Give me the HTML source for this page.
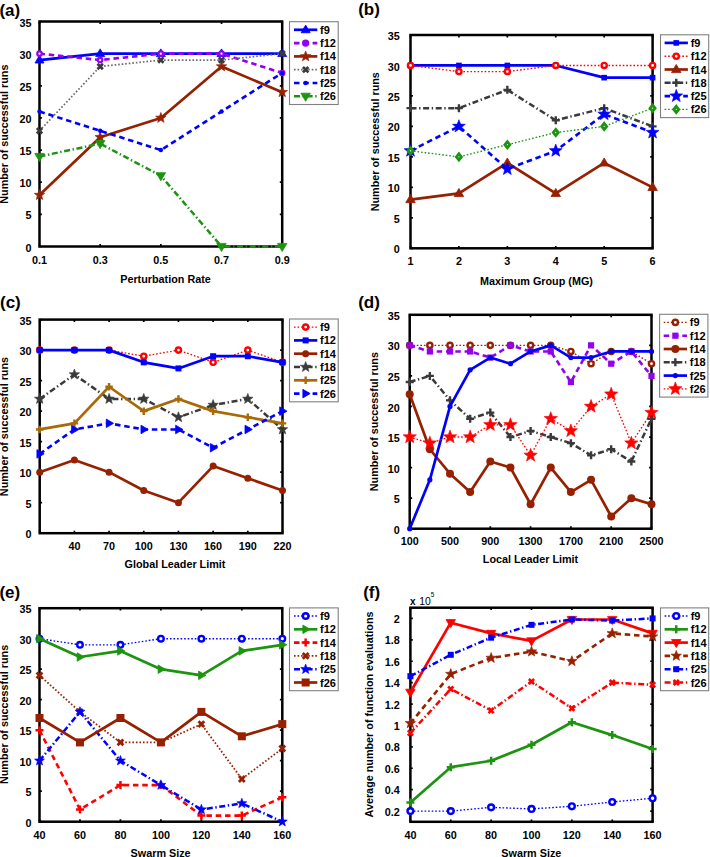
<!DOCTYPE html><html><head><meta charset="utf-8"><style>html,body{margin:0;padding:0;background:#fff;width:710px;height:857px;overflow:hidden}</style></head><body><svg width="710" height="857" viewBox="0 0 710 857" style="display:block" font-family='"Liberation Sans", sans-serif'>
<rect width="710" height="857" fill="#fff"/>
<rect x="39.5" y="21.5" width="242.7" height="225.0" fill="none" stroke="#000" stroke-width="2.5"/>
<path d="M39.50,246.5V244.1M39.50,21.5V23.9" stroke="#000" stroke-width="1.7"/>
<text x="39.50" y="263.5" text-anchor="middle" font-size="10.8" font-weight="bold">0.1</text>
<path d="M100.17,246.5V244.1M100.17,21.5V23.9" stroke="#000" stroke-width="1.7"/>
<text x="100.17" y="263.5" text-anchor="middle" font-size="10.8" font-weight="bold">0.3</text>
<path d="M160.85,246.5V244.1M160.85,21.5V23.9" stroke="#000" stroke-width="1.7"/>
<text x="160.85" y="263.5" text-anchor="middle" font-size="10.8" font-weight="bold">0.5</text>
<path d="M221.52,246.5V244.1M221.52,21.5V23.9" stroke="#000" stroke-width="1.7"/>
<text x="221.52" y="263.5" text-anchor="middle" font-size="10.8" font-weight="bold">0.7</text>
<path d="M282.20,246.5V244.1M282.20,21.5V23.9" stroke="#000" stroke-width="1.7"/>
<text x="282.20" y="263.5" text-anchor="middle" font-size="10.8" font-weight="bold">0.9</text>
<path d="M39.5,246.50H41.9M282.2,246.50H279.8" stroke="#000" stroke-width="1.7"/>
<text x="31.5" y="251.58" text-anchor="end" font-size="10.8" font-weight="bold">0</text>
<path d="M39.5,214.36H41.9M282.2,214.36H279.8" stroke="#000" stroke-width="1.7"/>
<text x="31.5" y="219.44" text-anchor="end" font-size="10.8" font-weight="bold">5</text>
<path d="M39.5,182.21H41.9M282.2,182.21H279.8" stroke="#000" stroke-width="1.7"/>
<text x="31.5" y="187.29" text-anchor="end" font-size="10.8" font-weight="bold">10</text>
<path d="M39.5,150.07H41.9M282.2,150.07H279.8" stroke="#000" stroke-width="1.7"/>
<text x="31.5" y="155.15" text-anchor="end" font-size="10.8" font-weight="bold">15</text>
<path d="M39.5,117.93H41.9M282.2,117.93H279.8" stroke="#000" stroke-width="1.7"/>
<text x="31.5" y="123.01" text-anchor="end" font-size="10.8" font-weight="bold">20</text>
<path d="M39.5,85.79H41.9M282.2,85.79H279.8" stroke="#000" stroke-width="1.7"/>
<text x="31.5" y="90.87" text-anchor="end" font-size="10.8" font-weight="bold">25</text>
<path d="M39.5,53.64H41.9M282.2,53.64H279.8" stroke="#000" stroke-width="1.7"/>
<text x="31.5" y="58.72" text-anchor="end" font-size="10.8" font-weight="bold">30</text>
<path d="M39.5,21.50H41.9M282.2,21.50H279.8" stroke="#000" stroke-width="1.7"/>
<text x="31.5" y="26.58" text-anchor="end" font-size="10.8" font-weight="bold">35</text>
<polyline points="39.50,60.07 100.17,53.64 160.85,53.64 221.52,53.64 282.20,53.64" fill="none" stroke="#0000ff" stroke-width="2.7" stroke-linejoin="round"/>
<polygon points="39.50,55.32 44.01,63.02 34.99,63.02" fill="#0000ff" stroke="#0000ff" stroke-width="0.8" stroke-linejoin="round"/>
<polygon points="100.17,48.89 104.69,56.59 95.66,56.59" fill="#0000ff" stroke="#0000ff" stroke-width="0.8" stroke-linejoin="round"/>
<polygon points="160.85,48.89 165.36,56.59 156.34,56.59" fill="#0000ff" stroke="#0000ff" stroke-width="0.8" stroke-linejoin="round"/>
<polygon points="221.52,48.89 226.04,56.59 217.01,56.59" fill="#0000ff" stroke="#0000ff" stroke-width="0.8" stroke-linejoin="round"/>
<polygon points="282.20,48.89 286.71,56.59 277.69,56.59" fill="#0000ff" stroke="#0000ff" stroke-width="0.8" stroke-linejoin="round"/>
<polyline points="39.50,53.64 100.17,60.07 160.85,53.64 221.52,53.64 282.20,72.93" fill="none" stroke="#9400f0" stroke-width="2.6" stroke-dasharray="5.5,3.8" stroke-linejoin="round"/>
<circle cx="39.50" cy="53.64" r="2.20" fill="#fff" stroke="#9400f0" stroke-width="2.2"/>
<circle cx="100.17" cy="60.07" r="2.20" fill="#fff" stroke="#9400f0" stroke-width="2.2"/>
<circle cx="160.85" cy="53.64" r="2.20" fill="#fff" stroke="#9400f0" stroke-width="2.2"/>
<circle cx="221.52" cy="53.64" r="2.20" fill="#fff" stroke="#9400f0" stroke-width="2.2"/>
<circle cx="282.20" cy="72.93" r="2.20" fill="#fff" stroke="#9400f0" stroke-width="2.2"/>
<polyline points="39.50,195.07 100.17,137.21 160.85,117.93 221.52,66.50 282.20,92.21" fill="none" stroke="#962000" stroke-width="2.7" stroke-linejoin="round"/>
<polygon points="39.50,189.57 40.86,193.20 44.73,193.37 41.70,195.79 42.73,199.52 39.50,197.38 36.27,199.52 37.30,195.79 34.27,193.37 38.14,193.20" fill="#962000" stroke="#962000" stroke-width="0.6" stroke-linejoin="miter"/>
<polygon points="100.17,131.71 101.53,135.35 105.41,135.51 102.37,137.93 103.41,141.66 100.17,139.52 96.94,141.66 97.98,137.93 94.94,135.51 98.82,135.35" fill="#962000" stroke="#962000" stroke-width="0.6" stroke-linejoin="miter"/>
<polygon points="160.85,112.43 162.21,116.06 166.08,116.23 163.05,118.64 164.08,122.38 160.85,120.24 157.62,122.38 158.65,118.64 155.62,116.23 159.49,116.06" fill="#962000" stroke="#962000" stroke-width="0.6" stroke-linejoin="miter"/>
<polygon points="221.52,61.00 222.88,64.63 226.76,64.80 223.72,67.21 224.76,70.95 221.52,68.81 218.29,70.95 219.33,67.21 216.29,64.80 220.17,64.63" fill="#962000" stroke="#962000" stroke-width="0.6" stroke-linejoin="miter"/>
<polygon points="282.20,86.71 283.56,90.35 287.43,90.51 284.40,92.93 285.43,96.66 282.20,94.52 278.97,96.66 280.00,92.93 276.97,90.51 280.84,90.35" fill="#962000" stroke="#962000" stroke-width="0.6" stroke-linejoin="miter"/>
<polyline points="39.50,130.79 100.17,66.50 160.85,60.07 221.52,60.07 282.20,53.64" fill="none" stroke="#6a6a6a" stroke-width="1.7" stroke-dasharray="1.6,1.95" stroke-linejoin="round"/>
<path d="M36.80,128.09L42.20,133.49M36.80,133.49L42.20,128.09" stroke="#3a3a3a" stroke-width="2.7"/>
<path d="M97.47,63.80L102.87,69.20M97.47,69.20L102.87,63.80" stroke="#3a3a3a" stroke-width="2.7"/>
<path d="M158.15,57.37L163.55,62.77M158.15,62.77L163.55,57.37" stroke="#3a3a3a" stroke-width="2.7"/>
<path d="M218.82,57.37L224.22,62.77M218.82,62.77L224.22,57.37" stroke="#3a3a3a" stroke-width="2.7"/>
<path d="M279.50,50.94L284.90,56.34M279.50,56.34L284.90,50.94" stroke="#3a3a3a" stroke-width="2.7"/>
<polyline points="39.50,111.50 100.17,130.79 160.85,150.07 221.52,111.50 282.20,72.93" fill="none" stroke="#0000ff" stroke-width="2.6" stroke-dasharray="5.5,3.8" stroke-linejoin="round"/>
<circle cx="39.50" cy="111.50" r="2.20" fill="#0000ff"/>
<circle cx="100.17" cy="130.79" r="2.20" fill="#0000ff"/>
<circle cx="160.85" cy="150.07" r="2.20" fill="#0000ff"/>
<circle cx="221.52" cy="111.50" r="2.20" fill="#0000ff"/>
<circle cx="282.20" cy="72.93" r="2.20" fill="#0000ff"/>
<polyline points="39.50,156.50 100.17,143.64 160.85,175.79 221.52,246.50 282.20,246.50" fill="none" stroke="#1c9410" stroke-width="2.5" stroke-dasharray="6,2.6,1.4,2.6" stroke-linejoin="round"/>
<polygon points="39.50,161.50 44.25,153.40 34.75,153.40" fill="#1c9410" stroke="#1c9410" stroke-width="0.8" stroke-linejoin="round"/>
<polygon points="100.17,148.64 104.92,140.54 95.42,140.54" fill="#1c9410" stroke="#1c9410" stroke-width="0.8" stroke-linejoin="round"/>
<polygon points="160.85,180.79 165.60,172.69 156.10,172.69" fill="#1c9410" stroke="#1c9410" stroke-width="0.8" stroke-linejoin="round"/>
<polygon points="221.52,251.50 226.27,243.40 216.77,243.40" fill="#1c9410" stroke="#1c9410" stroke-width="0.8" stroke-linejoin="round"/>
<polygon points="282.20,251.50 286.95,243.40 277.45,243.40" fill="#1c9410" stroke="#1c9410" stroke-width="0.8" stroke-linejoin="round"/>
<text x="165.5" y="282.5" text-anchor="middle" font-size="10.8" font-weight="bold">Perturbation Rate</text>
<text transform="translate(7.96,134.15) rotate(-90)" text-anchor="middle" font-size="10.8" font-weight="bold">Number of successful runs</text>
<text x="-0.6" y="15.6" font-size="17" font-weight="bold">(a)</text>
<rect x="289.5" y="21.7" width="48.7" height="82.8" fill="#fff" stroke="#808080" stroke-width="1.1"/>
<path d="M294.0,29.799999999999997H317.3" stroke="#0000ff" stroke-width="2.7"/>
<polygon points="305.65,25.05 310.16,32.74 301.14,32.74" fill="#0000ff" stroke="#0000ff" stroke-width="0.8" stroke-linejoin="round"/>
<text x="320.1" y="33.8" font-size="11" font-weight="bold">f9</text>
<path d="M294.0,43.099999999999994H317.3" stroke="#9400f0" stroke-width="2.6" stroke-dasharray="5.5,3.8"/>
<circle cx="305.65" cy="43.10" r="3.70" fill="#9400f0"/>
<text x="320.1" y="47.099999999999994" font-size="11" font-weight="bold">f12</text>
<path d="M294.0,56.4H317.3" stroke="#962000" stroke-width="2.7"/>
<polygon points="305.65,50.90 307.01,54.53 310.88,54.70 307.85,57.11 308.88,60.85 305.65,58.71 302.42,60.85 303.45,57.11 300.42,54.70 304.29,54.53" fill="#962000" stroke="#962000" stroke-width="0.6" stroke-linejoin="miter"/>
<text x="320.1" y="60.4" font-size="11" font-weight="bold">f14</text>
<path d="M294.0,69.7H317.3" stroke="#6a6a6a" stroke-width="1.7" stroke-dasharray="1.6,1.95"/>
<path d="M302.95,67.00L308.35,72.40M302.95,72.40L308.35,67.00" stroke="#3a3a3a" stroke-width="2.7"/>
<text x="320.1" y="73.7" font-size="11" font-weight="bold">f18</text>
<path d="M294.0,83.0H317.3" stroke="#0000ff" stroke-width="2.6" stroke-dasharray="5.5,3.8"/>
<circle cx="305.65" cy="83.00" r="2.20" fill="#0000ff"/>
<text x="320.1" y="87.0" font-size="11" font-weight="bold">f25</text>
<path d="M294.0,96.3H317.3" stroke="#1c9410" stroke-width="2.5" stroke-dasharray="6,2.6,1.4,2.6"/>
<polygon points="305.65,101.30 310.40,93.20 300.90,93.20" fill="#1c9410" stroke="#1c9410" stroke-width="0.8" stroke-linejoin="round"/>
<text x="320.1" y="100.3" font-size="11" font-weight="bold">f26</text>
<rect x="410.5" y="35" width="242.10000000000002" height="213.3" fill="none" stroke="#000" stroke-width="2.5"/>
<path d="M410.50,248.3V245.9M410.50,35V37.4" stroke="#000" stroke-width="1.7"/>
<text x="410.50" y="265.3" text-anchor="middle" font-size="10.8" font-weight="bold">1</text>
<path d="M458.92,248.3V245.9M458.92,35V37.4" stroke="#000" stroke-width="1.7"/>
<text x="458.92" y="265.3" text-anchor="middle" font-size="10.8" font-weight="bold">2</text>
<path d="M507.34,248.3V245.9M507.34,35V37.4" stroke="#000" stroke-width="1.7"/>
<text x="507.34" y="265.3" text-anchor="middle" font-size="10.8" font-weight="bold">3</text>
<path d="M555.76,248.3V245.9M555.76,35V37.4" stroke="#000" stroke-width="1.7"/>
<text x="555.76" y="265.3" text-anchor="middle" font-size="10.8" font-weight="bold">4</text>
<path d="M604.18,248.3V245.9M604.18,35V37.4" stroke="#000" stroke-width="1.7"/>
<text x="604.18" y="265.3" text-anchor="middle" font-size="10.8" font-weight="bold">5</text>
<path d="M652.60,248.3V245.9M652.60,35V37.4" stroke="#000" stroke-width="1.7"/>
<text x="652.60" y="265.3" text-anchor="middle" font-size="10.8" font-weight="bold">6</text>
<path d="M410.5,248.30H412.9M652.6,248.30H650.2" stroke="#000" stroke-width="1.7"/>
<text x="399.8" y="253.38" text-anchor="end" font-size="10.8" font-weight="bold">0</text>
<path d="M410.5,217.83H412.9M652.6,217.83H650.2" stroke="#000" stroke-width="1.7"/>
<text x="399.8" y="222.91" text-anchor="end" font-size="10.8" font-weight="bold">5</text>
<path d="M410.5,187.36H412.9M652.6,187.36H650.2" stroke="#000" stroke-width="1.7"/>
<text x="399.8" y="192.44" text-anchor="end" font-size="10.8" font-weight="bold">10</text>
<path d="M410.5,156.89H412.9M652.6,156.89H650.2" stroke="#000" stroke-width="1.7"/>
<text x="399.8" y="161.97" text-anchor="end" font-size="10.8" font-weight="bold">15</text>
<path d="M410.5,126.41H412.9M652.6,126.41H650.2" stroke="#000" stroke-width="1.7"/>
<text x="399.8" y="131.49" text-anchor="end" font-size="10.8" font-weight="bold">20</text>
<path d="M410.5,95.94H412.9M652.6,95.94H650.2" stroke="#000" stroke-width="1.7"/>
<text x="399.8" y="101.02" text-anchor="end" font-size="10.8" font-weight="bold">25</text>
<path d="M410.5,65.47H412.9M652.6,65.47H650.2" stroke="#000" stroke-width="1.7"/>
<text x="399.8" y="70.55" text-anchor="end" font-size="10.8" font-weight="bold">30</text>
<path d="M410.5,35.00H412.9M652.6,35.00H650.2" stroke="#000" stroke-width="1.7"/>
<text x="399.8" y="40.08" text-anchor="end" font-size="10.8" font-weight="bold">35</text>
<polyline points="410.50,65.47 458.92,65.47 507.34,65.47 555.76,65.47 604.18,77.66 652.60,77.66" fill="none" stroke="#0000ff" stroke-width="2.7" stroke-linejoin="round"/>
<rect x="407.70" y="62.67" width="5.6" height="5.6" fill="#0000ff"/>
<rect x="456.12" y="62.67" width="5.6" height="5.6" fill="#0000ff"/>
<rect x="504.54" y="62.67" width="5.6" height="5.6" fill="#0000ff"/>
<rect x="552.96" y="62.67" width="5.6" height="5.6" fill="#0000ff"/>
<rect x="601.38" y="74.86" width="5.6" height="5.6" fill="#0000ff"/>
<rect x="649.80" y="74.86" width="5.6" height="5.6" fill="#0000ff"/>
<polyline points="410.50,65.47 458.92,71.57 507.34,71.57 555.76,65.47 604.18,65.47 652.60,65.47" fill="none" stroke="#ff0000" stroke-width="1.35" stroke-dasharray="1.6,1.95" stroke-linejoin="round"/>
<circle cx="410.50" cy="65.47" r="2.60" fill="#fff" stroke="#ff0000" stroke-width="2.4"/>
<circle cx="458.92" cy="71.57" r="2.60" fill="#fff" stroke="#ff0000" stroke-width="2.4"/>
<circle cx="507.34" cy="71.57" r="2.60" fill="#fff" stroke="#ff0000" stroke-width="2.4"/>
<circle cx="555.76" cy="65.47" r="2.60" fill="#fff" stroke="#ff0000" stroke-width="2.4"/>
<circle cx="604.18" cy="65.47" r="2.60" fill="#fff" stroke="#ff0000" stroke-width="2.4"/>
<circle cx="652.60" cy="65.47" r="2.60" fill="#fff" stroke="#ff0000" stroke-width="2.4"/>
<polyline points="410.50,199.55 458.92,193.45 507.34,162.98 555.76,193.45 604.18,162.98 652.60,187.36" fill="none" stroke="#962000" stroke-width="2.7" stroke-linejoin="round"/>
<polygon points="410.50,194.55 415.25,202.65 405.75,202.65" fill="#962000" stroke="#962000" stroke-width="0.8" stroke-linejoin="round"/>
<polygon points="458.92,188.45 463.67,196.55 454.17,196.55" fill="#962000" stroke="#962000" stroke-width="0.8" stroke-linejoin="round"/>
<polygon points="507.34,157.98 512.09,166.08 502.59,166.08" fill="#962000" stroke="#962000" stroke-width="0.8" stroke-linejoin="round"/>
<polygon points="555.76,188.45 560.51,196.55 551.01,196.55" fill="#962000" stroke="#962000" stroke-width="0.8" stroke-linejoin="round"/>
<polygon points="604.18,157.98 608.93,166.08 599.43,166.08" fill="#962000" stroke="#962000" stroke-width="0.8" stroke-linejoin="round"/>
<polygon points="652.60,182.36 657.35,190.46 647.85,190.46" fill="#962000" stroke="#962000" stroke-width="0.8" stroke-linejoin="round"/>
<polyline points="410.50,108.13 458.92,108.13 507.34,89.85 555.76,120.32 604.18,108.13 652.60,126.41" fill="none" stroke="#3a3a3a" stroke-width="2.5" stroke-dasharray="6,2.6,1.4,2.6" stroke-linejoin="round"/>
<path d="M406.50,108.13H414.50M410.50,104.13V112.13" stroke="#3a3a3a" stroke-width="2.4"/>
<path d="M454.92,108.13H462.92M458.92,104.13V112.13" stroke="#3a3a3a" stroke-width="2.4"/>
<path d="M503.34,89.85H511.34M507.34,85.85V93.85" stroke="#3a3a3a" stroke-width="2.4"/>
<path d="M551.76,120.32H559.76M555.76,116.32V124.32" stroke="#3a3a3a" stroke-width="2.4"/>
<path d="M600.18,108.13H608.18M604.18,104.13V112.13" stroke="#3a3a3a" stroke-width="2.4"/>
<path d="M648.60,126.41H656.60M652.60,122.41V130.41" stroke="#3a3a3a" stroke-width="2.4"/>
<polyline points="410.50,150.79 458.92,126.41 507.34,169.07 555.76,150.79 604.18,114.23 652.60,132.51" fill="none" stroke="#0000ff" stroke-width="2.6" stroke-dasharray="5.5,3.8" stroke-linejoin="round"/>
<polygon points="410.50,144.04 412.17,148.50 416.92,148.71 413.20,151.67 414.47,156.25 410.50,153.63 406.53,156.25 407.80,151.67 404.08,148.71 408.83,148.50" fill="#0000ff" stroke="#0000ff" stroke-width="0.6" stroke-linejoin="miter"/>
<polygon points="458.92,119.66 460.59,124.12 465.34,124.33 461.62,127.29 462.89,131.88 458.92,129.25 454.95,131.88 456.22,127.29 452.50,124.33 457.25,124.12" fill="#0000ff" stroke="#0000ff" stroke-width="0.6" stroke-linejoin="miter"/>
<polygon points="507.34,162.32 509.01,166.78 513.76,166.99 510.04,169.95 511.31,174.54 507.34,171.91 503.37,174.54 504.64,169.95 500.92,166.99 505.67,166.78" fill="#0000ff" stroke="#0000ff" stroke-width="0.6" stroke-linejoin="miter"/>
<polygon points="555.76,144.04 557.43,148.50 562.18,148.71 558.46,151.67 559.73,156.25 555.76,153.63 551.79,156.25 553.06,151.67 549.34,148.71 554.09,148.50" fill="#0000ff" stroke="#0000ff" stroke-width="0.6" stroke-linejoin="miter"/>
<polygon points="604.18,107.48 605.85,111.93 610.60,112.14 606.88,115.10 608.15,119.69 604.18,117.06 600.21,119.69 601.48,115.10 597.76,112.14 602.51,111.93" fill="#0000ff" stroke="#0000ff" stroke-width="0.6" stroke-linejoin="miter"/>
<polygon points="652.60,125.76 654.27,130.22 659.02,130.42 655.30,133.38 656.57,137.97 652.60,135.34 648.63,137.97 649.90,133.38 646.18,130.42 650.93,130.22" fill="#0000ff" stroke="#0000ff" stroke-width="0.6" stroke-linejoin="miter"/>
<polyline points="410.50,150.79 458.92,156.89 507.34,144.70 555.76,132.51 604.18,126.41 652.60,108.13" fill="none" stroke="#1c9410" stroke-width="1.35" stroke-dasharray="1.6,1.95" stroke-linejoin="round"/>
<polygon points="410.50,147.72 412.96,150.79 410.50,153.86 408.04,150.79" fill="#fff" stroke="#1c9410" stroke-width="2.8"/>
<polygon points="458.92,153.82 461.38,156.89 458.92,159.96 456.46,156.89" fill="#fff" stroke="#1c9410" stroke-width="2.8"/>
<polygon points="507.34,141.63 509.80,144.70 507.34,147.77 504.88,144.70" fill="#fff" stroke="#1c9410" stroke-width="2.8"/>
<polygon points="555.76,129.44 558.22,132.51 555.76,135.58 553.30,132.51" fill="#fff" stroke="#1c9410" stroke-width="2.8"/>
<polygon points="604.18,123.34 606.64,126.41 604.18,129.48 601.72,126.41" fill="#fff" stroke="#1c9410" stroke-width="2.8"/>
<polygon points="652.60,105.06 655.06,108.13 652.60,111.20 650.14,108.13" fill="#fff" stroke="#1c9410" stroke-width="2.8"/>
<text x="536.5" y="284.7" text-anchor="middle" font-size="10.8" font-weight="bold">Maximum Group (MG)</text>
<text transform="translate(378.8,141.75) rotate(-90)" text-anchor="middle" font-size="10.8" font-weight="bold">Number of successful runs</text>
<text x="358.2" y="15.2" font-size="17" font-weight="bold">(b)</text>
<rect x="660.5" y="34.8" width="48.2" height="82.8" fill="#fff" stroke="#808080" stroke-width="1.1"/>
<path d="M664.6,42.9H687.9" stroke="#0000ff" stroke-width="2.7"/>
<rect x="673.45" y="40.10" width="5.6" height="5.6" fill="#0000ff"/>
<text x="690.7" y="46.9" font-size="11" font-weight="bold">f9</text>
<path d="M664.6,56.2H687.9" stroke="#ff0000" stroke-width="1.35" stroke-dasharray="1.6,1.95"/>
<circle cx="676.25" cy="56.20" r="2.60" fill="#fff" stroke="#ff0000" stroke-width="2.4"/>
<text x="690.7" y="60.2" font-size="11" font-weight="bold">f12</text>
<path d="M664.6,69.5H687.9" stroke="#962000" stroke-width="2.7"/>
<polygon points="676.25,64.50 681.00,72.60 671.50,72.60" fill="#962000" stroke="#962000" stroke-width="0.8" stroke-linejoin="round"/>
<text x="690.7" y="73.5" font-size="11" font-weight="bold">f14</text>
<path d="M664.6,82.80000000000001H687.9" stroke="#3a3a3a" stroke-width="2.5" stroke-dasharray="6,2.6,1.4,2.6"/>
<path d="M672.25,82.80H680.25M676.25,78.80V86.80" stroke="#3a3a3a" stroke-width="2.4"/>
<text x="690.7" y="86.80000000000001" font-size="11" font-weight="bold">f18</text>
<path d="M664.6,96.1H687.9" stroke="#0000ff" stroke-width="2.6" stroke-dasharray="5.5,3.8"/>
<polygon points="676.25,89.35 677.92,93.81 682.67,94.01 678.95,96.98 680.22,101.56 676.25,98.93 672.28,101.56 673.55,96.98 669.83,94.01 674.58,93.81" fill="#0000ff" stroke="#0000ff" stroke-width="0.6" stroke-linejoin="miter"/>
<text x="690.7" y="100.1" font-size="11" font-weight="bold">f25</text>
<path d="M664.6,109.4H687.9" stroke="#1c9410" stroke-width="1.35" stroke-dasharray="1.6,1.95"/>
<polygon points="676.25,106.33 678.71,109.40 676.25,112.47 673.79,109.40" fill="#fff" stroke="#1c9410" stroke-width="2.8"/>
<text x="690.7" y="113.4" font-size="11" font-weight="bold">f26</text>
<rect x="39.7" y="319.6" width="242.8" height="213.60000000000002" fill="none" stroke="#000" stroke-width="2.5"/>
<path d="M39.70,533.2V530.8000000000001M39.70,319.6V322.0" stroke="#000" stroke-width="1.7"/>
<path d="M74.39,533.2V530.8000000000001M74.39,319.6V322.0" stroke="#000" stroke-width="1.7"/>
<text x="74.39" y="549.6" text-anchor="middle" font-size="10.8" font-weight="bold">40</text>
<path d="M109.07,533.2V530.8000000000001M109.07,319.6V322.0" stroke="#000" stroke-width="1.7"/>
<text x="109.07" y="549.6" text-anchor="middle" font-size="10.8" font-weight="bold">70</text>
<path d="M143.76,533.2V530.8000000000001M143.76,319.6V322.0" stroke="#000" stroke-width="1.7"/>
<text x="143.76" y="549.6" text-anchor="middle" font-size="10.8" font-weight="bold">100</text>
<path d="M178.44,533.2V530.8000000000001M178.44,319.6V322.0" stroke="#000" stroke-width="1.7"/>
<text x="178.44" y="549.6" text-anchor="middle" font-size="10.8" font-weight="bold">130</text>
<path d="M213.13,533.2V530.8000000000001M213.13,319.6V322.0" stroke="#000" stroke-width="1.7"/>
<text x="213.13" y="549.6" text-anchor="middle" font-size="10.8" font-weight="bold">160</text>
<path d="M247.81,533.2V530.8000000000001M247.81,319.6V322.0" stroke="#000" stroke-width="1.7"/>
<text x="247.81" y="549.6" text-anchor="middle" font-size="10.8" font-weight="bold">190</text>
<path d="M282.50,533.2V530.8000000000001M282.50,319.6V322.0" stroke="#000" stroke-width="1.7"/>
<text x="282.50" y="549.6" text-anchor="middle" font-size="10.8" font-weight="bold">220</text>
<path d="M39.7,533.20H42.1M282.5,533.20H280.1" stroke="#000" stroke-width="1.7"/>
<text x="31.5" y="538.28" text-anchor="end" font-size="10.8" font-weight="bold">0</text>
<path d="M39.7,502.69H42.1M282.5,502.69H280.1" stroke="#000" stroke-width="1.7"/>
<text x="31.5" y="507.77" text-anchor="end" font-size="10.8" font-weight="bold">5</text>
<path d="M39.7,472.17H42.1M282.5,472.17H280.1" stroke="#000" stroke-width="1.7"/>
<text x="31.5" y="477.25" text-anchor="end" font-size="10.8" font-weight="bold">10</text>
<path d="M39.7,441.66H42.1M282.5,441.66H280.1" stroke="#000" stroke-width="1.7"/>
<text x="31.5" y="446.74" text-anchor="end" font-size="10.8" font-weight="bold">15</text>
<path d="M39.7,411.14H42.1M282.5,411.14H280.1" stroke="#000" stroke-width="1.7"/>
<text x="31.5" y="416.22" text-anchor="end" font-size="10.8" font-weight="bold">20</text>
<path d="M39.7,380.63H42.1M282.5,380.63H280.1" stroke="#000" stroke-width="1.7"/>
<text x="31.5" y="385.71" text-anchor="end" font-size="10.8" font-weight="bold">25</text>
<path d="M39.7,350.11H42.1M282.5,350.11H280.1" stroke="#000" stroke-width="1.7"/>
<text x="31.5" y="355.19" text-anchor="end" font-size="10.8" font-weight="bold">30</text>
<path d="M39.7,319.60H42.1M282.5,319.60H280.1" stroke="#000" stroke-width="1.7"/>
<text x="31.5" y="324.68" text-anchor="end" font-size="10.8" font-weight="bold">35</text>
<polyline points="39.70,350.11 74.39,350.11 109.07,350.11 143.76,356.22 178.44,350.11 213.13,362.32 247.81,350.11 282.50,362.32" fill="none" stroke="#ff0000" stroke-width="1.35" stroke-dasharray="1.6,1.95" stroke-linejoin="round"/>
<circle cx="39.70" cy="350.11" r="2.60" fill="#fff" stroke="#ff0000" stroke-width="2.4"/>
<circle cx="74.39" cy="350.11" r="2.60" fill="#fff" stroke="#ff0000" stroke-width="2.4"/>
<circle cx="109.07" cy="350.11" r="2.60" fill="#fff" stroke="#ff0000" stroke-width="2.4"/>
<circle cx="143.76" cy="356.22" r="2.60" fill="#fff" stroke="#ff0000" stroke-width="2.4"/>
<circle cx="178.44" cy="350.11" r="2.60" fill="#fff" stroke="#ff0000" stroke-width="2.4"/>
<circle cx="213.13" cy="362.32" r="2.60" fill="#fff" stroke="#ff0000" stroke-width="2.4"/>
<circle cx="247.81" cy="350.11" r="2.60" fill="#fff" stroke="#ff0000" stroke-width="2.4"/>
<circle cx="282.50" cy="362.32" r="2.60" fill="#fff" stroke="#ff0000" stroke-width="2.4"/>
<polyline points="39.70,350.11 74.39,350.11 109.07,350.11 143.76,362.32 178.44,368.42 213.13,356.22 247.81,356.22 282.50,362.32" fill="none" stroke="#0000ff" stroke-width="2.7" stroke-linejoin="round"/>
<rect x="36.70" y="347.11" width="6" height="6" fill="#0000ff"/>
<rect x="71.39" y="347.11" width="6" height="6" fill="#0000ff"/>
<rect x="106.07" y="347.11" width="6" height="6" fill="#0000ff"/>
<rect x="140.76" y="359.32" width="6" height="6" fill="#0000ff"/>
<rect x="175.44" y="365.42" width="6" height="6" fill="#0000ff"/>
<rect x="210.13" y="353.22" width="6" height="6" fill="#0000ff"/>
<rect x="244.81" y="353.22" width="6" height="6" fill="#0000ff"/>
<rect x="279.50" y="359.32" width="6" height="6" fill="#0000ff"/>
<polyline points="39.70,472.17 74.39,459.97 109.07,472.17 143.76,490.48 178.44,502.69 213.13,466.07 247.81,478.27 282.50,490.48" fill="none" stroke="#962000" stroke-width="2.7" stroke-linejoin="round"/>
<circle cx="39.70" cy="472.17" r="3.50" fill="#962000"/>
<circle cx="74.39" cy="459.97" r="3.50" fill="#962000"/>
<circle cx="109.07" cy="472.17" r="3.50" fill="#962000"/>
<circle cx="143.76" cy="490.48" r="3.50" fill="#962000"/>
<circle cx="178.44" cy="502.69" r="3.50" fill="#962000"/>
<circle cx="213.13" cy="466.07" r="3.50" fill="#962000"/>
<circle cx="247.81" cy="478.27" r="3.50" fill="#962000"/>
<circle cx="282.50" cy="490.48" r="3.50" fill="#962000"/>
<polyline points="39.70,398.94 74.39,374.53 109.07,398.94 143.76,398.94 178.44,417.25 213.13,405.04 247.81,398.94 282.50,429.45" fill="none" stroke="#3a3a3a" stroke-width="2.5" stroke-dasharray="6,2.6,1.4,2.6" stroke-linejoin="round"/>
<polygon points="39.70,393.44 41.06,397.07 44.93,397.24 41.90,399.65 42.93,403.39 39.70,401.25 36.47,403.39 37.50,399.65 34.47,397.24 38.34,397.07" fill="#3a3a3a" stroke="#3a3a3a" stroke-width="0.6" stroke-linejoin="miter"/>
<polygon points="74.39,369.03 75.74,372.66 79.62,372.83 76.58,375.24 77.62,378.98 74.39,376.84 71.15,378.98 72.19,375.24 69.15,372.83 73.03,372.66" fill="#3a3a3a" stroke="#3a3a3a" stroke-width="0.6" stroke-linejoin="miter"/>
<polygon points="109.07,393.44 110.43,397.07 114.30,397.24 111.27,399.65 112.30,403.39 109.07,401.25 105.84,403.39 106.87,399.65 103.84,397.24 107.71,397.07" fill="#3a3a3a" stroke="#3a3a3a" stroke-width="0.6" stroke-linejoin="miter"/>
<polygon points="143.76,393.44 145.11,397.07 148.99,397.24 145.95,399.65 146.99,403.39 143.76,401.25 140.52,403.39 141.56,399.65 138.53,397.24 142.40,397.07" fill="#3a3a3a" stroke="#3a3a3a" stroke-width="0.6" stroke-linejoin="miter"/>
<polygon points="178.44,411.75 179.80,415.38 183.67,415.55 180.64,417.96 181.68,421.70 178.44,419.56 175.21,421.70 176.25,417.96 173.21,415.55 177.09,415.38" fill="#3a3a3a" stroke="#3a3a3a" stroke-width="0.6" stroke-linejoin="miter"/>
<polygon points="213.13,399.54 214.49,403.17 218.36,403.34 215.33,405.75 216.36,409.49 213.13,407.35 209.90,409.49 210.93,405.75 207.90,403.34 211.77,403.17" fill="#3a3a3a" stroke="#3a3a3a" stroke-width="0.6" stroke-linejoin="miter"/>
<polygon points="247.81,393.44 249.17,397.07 253.05,397.24 250.01,399.65 251.05,403.39 247.81,401.25 244.58,403.39 245.62,399.65 242.58,397.24 246.46,397.07" fill="#3a3a3a" stroke="#3a3a3a" stroke-width="0.6" stroke-linejoin="miter"/>
<polygon points="282.50,423.95 283.86,427.58 287.73,427.75 284.70,430.17 285.73,433.90 282.50,431.76 279.27,433.90 280.30,430.17 277.27,427.75 281.14,427.58" fill="#3a3a3a" stroke="#3a3a3a" stroke-width="0.6" stroke-linejoin="miter"/>
<polyline points="39.70,429.45 74.39,423.35 109.07,386.73 143.76,411.14 178.44,398.94 213.13,411.14 247.81,417.25 282.50,423.35" fill="none" stroke="#a86a08" stroke-width="2.7" stroke-linejoin="round"/>
<path d="M35.95,429.45H43.45M39.70,425.70V433.20" stroke="#a86a08" stroke-width="2.4"/>
<path d="M70.64,423.35H78.14M74.39,419.60V427.10" stroke="#a86a08" stroke-width="2.4"/>
<path d="M105.32,386.73H112.82M109.07,382.98V390.48" stroke="#a86a08" stroke-width="2.4"/>
<path d="M140.01,411.14H147.51M143.76,407.39V414.89" stroke="#a86a08" stroke-width="2.4"/>
<path d="M174.69,398.94H182.19M178.44,395.19V402.69" stroke="#a86a08" stroke-width="2.4"/>
<path d="M209.38,411.14H216.88M213.13,407.39V414.89" stroke="#a86a08" stroke-width="2.4"/>
<path d="M244.06,417.25H251.56M247.81,413.50V421.00" stroke="#a86a08" stroke-width="2.4"/>
<path d="M278.75,423.35H286.25M282.50,419.60V427.10" stroke="#a86a08" stroke-width="2.4"/>
<polyline points="39.70,453.86 74.39,429.45 109.07,423.35 143.76,429.45 178.44,429.45 213.13,447.76 247.81,429.45 282.50,411.14" fill="none" stroke="#0000ff" stroke-width="2.6" stroke-dasharray="5.5,3.8" stroke-linejoin="round"/>
<polygon points="44.20,453.86 36.91,449.59 36.91,458.14" fill="#0000ff" stroke="#0000ff" stroke-width="0.8" stroke-linejoin="round"/>
<polygon points="78.89,429.45 71.60,425.18 71.60,433.73" fill="#0000ff" stroke="#0000ff" stroke-width="0.8" stroke-linejoin="round"/>
<polygon points="113.57,423.35 106.28,419.07 106.28,427.62" fill="#0000ff" stroke="#0000ff" stroke-width="0.8" stroke-linejoin="round"/>
<polygon points="148.26,429.45 140.97,425.18 140.97,433.73" fill="#0000ff" stroke="#0000ff" stroke-width="0.8" stroke-linejoin="round"/>
<polygon points="182.94,429.45 175.65,425.18 175.65,433.73" fill="#0000ff" stroke="#0000ff" stroke-width="0.8" stroke-linejoin="round"/>
<polygon points="217.63,447.76 210.34,443.49 210.34,452.04" fill="#0000ff" stroke="#0000ff" stroke-width="0.8" stroke-linejoin="round"/>
<polygon points="252.31,429.45 245.02,425.18 245.02,433.73" fill="#0000ff" stroke="#0000ff" stroke-width="0.8" stroke-linejoin="round"/>
<polygon points="287.00,411.14 279.71,406.87 279.71,415.42" fill="#0000ff" stroke="#0000ff" stroke-width="0.8" stroke-linejoin="round"/>
<text x="175" y="567.7" text-anchor="middle" font-size="10.8" font-weight="bold">Global Leader Limit</text>
<text transform="translate(8.0,426.55) rotate(-90)" text-anchor="middle" font-size="10.8" font-weight="bold">Number of successful runs</text>
<text x="0" y="308.3" font-size="17" font-weight="bold">(c)</text>
<rect x="289.5" y="319" width="48.7" height="82.8" fill="#fff" stroke="#808080" stroke-width="1.1"/>
<path d="M294.0,327.1H317.3" stroke="#ff0000" stroke-width="1.35" stroke-dasharray="1.6,1.95"/>
<circle cx="305.65" cy="327.10" r="2.60" fill="#fff" stroke="#ff0000" stroke-width="2.4"/>
<text x="320.1" y="331.1" font-size="11" font-weight="bold">f9</text>
<path d="M294.0,340.40000000000003H317.3" stroke="#0000ff" stroke-width="2.7"/>
<rect x="302.65" y="337.40" width="6" height="6" fill="#0000ff"/>
<text x="320.1" y="344.40000000000003" font-size="11" font-weight="bold">f12</text>
<path d="M294.0,353.70000000000005H317.3" stroke="#962000" stroke-width="2.7"/>
<circle cx="305.65" cy="353.70" r="3.50" fill="#962000"/>
<text x="320.1" y="357.70000000000005" font-size="11" font-weight="bold">f14</text>
<path d="M294.0,367.0H317.3" stroke="#3a3a3a" stroke-width="2.5" stroke-dasharray="6,2.6,1.4,2.6"/>
<polygon points="305.65,361.50 307.01,365.13 310.88,365.30 307.85,367.71 308.88,371.45 305.65,369.31 302.42,371.45 303.45,367.71 300.42,365.30 304.29,365.13" fill="#3a3a3a" stroke="#3a3a3a" stroke-width="0.6" stroke-linejoin="miter"/>
<text x="320.1" y="371.0" font-size="11" font-weight="bold">f18</text>
<path d="M294.0,380.3H317.3" stroke="#a86a08" stroke-width="2.7"/>
<path d="M301.90,380.30H309.40M305.65,376.55V384.05" stroke="#a86a08" stroke-width="2.4"/>
<text x="320.1" y="384.3" font-size="11" font-weight="bold">f25</text>
<path d="M294.0,393.6H317.3" stroke="#0000ff" stroke-width="2.6" stroke-dasharray="5.5,3.8"/>
<polygon points="310.15,393.60 302.86,389.33 302.86,397.88" fill="#0000ff" stroke="#0000ff" stroke-width="0.8" stroke-linejoin="round"/>
<text x="320.1" y="397.6" font-size="11" font-weight="bold">f26</text>
<rect x="409.7" y="314.8" width="241.8" height="213.90000000000003" fill="none" stroke="#000" stroke-width="2.5"/>
<path d="M409.70,528.7V526.3000000000001M409.70,314.8V317.2" stroke="#000" stroke-width="1.7"/>
<text x="409.70" y="544.6" text-anchor="middle" font-size="10.8" font-weight="bold">100</text>
<path d="M450.00,528.7V526.3000000000001M450.00,314.8V317.2" stroke="#000" stroke-width="1.7"/>
<text x="450.00" y="544.6" text-anchor="middle" font-size="10.8" font-weight="bold">500</text>
<path d="M490.30,528.7V526.3000000000001M490.30,314.8V317.2" stroke="#000" stroke-width="1.7"/>
<text x="490.30" y="544.6" text-anchor="middle" font-size="10.8" font-weight="bold">900</text>
<path d="M530.60,528.7V526.3000000000001M530.60,314.8V317.2" stroke="#000" stroke-width="1.7"/>
<text x="530.60" y="544.6" text-anchor="middle" font-size="10.8" font-weight="bold">1300</text>
<path d="M570.90,528.7V526.3000000000001M570.90,314.8V317.2" stroke="#000" stroke-width="1.7"/>
<text x="570.90" y="544.6" text-anchor="middle" font-size="10.8" font-weight="bold">1700</text>
<path d="M611.20,528.7V526.3000000000001M611.20,314.8V317.2" stroke="#000" stroke-width="1.7"/>
<text x="611.20" y="544.6" text-anchor="middle" font-size="10.8" font-weight="bold">2100</text>
<path d="M651.50,528.7V526.3000000000001M651.50,314.8V317.2" stroke="#000" stroke-width="1.7"/>
<text x="651.50" y="544.6" text-anchor="middle" font-size="10.8" font-weight="bold">2500</text>
<path d="M409.7,528.70H412.09999999999997M651.5,528.70H649.1" stroke="#000" stroke-width="1.7"/>
<text x="399.8" y="533.78" text-anchor="end" font-size="10.8" font-weight="bold">0</text>
<path d="M409.7,498.14H412.09999999999997M651.5,498.14H649.1" stroke="#000" stroke-width="1.7"/>
<text x="399.8" y="503.22" text-anchor="end" font-size="10.8" font-weight="bold">5</text>
<path d="M409.7,467.59H412.09999999999997M651.5,467.59H649.1" stroke="#000" stroke-width="1.7"/>
<text x="399.8" y="472.67" text-anchor="end" font-size="10.8" font-weight="bold">10</text>
<path d="M409.7,437.03H412.09999999999997M651.5,437.03H649.1" stroke="#000" stroke-width="1.7"/>
<text x="399.8" y="442.11" text-anchor="end" font-size="10.8" font-weight="bold">15</text>
<path d="M409.7,406.47H412.09999999999997M651.5,406.47H649.1" stroke="#000" stroke-width="1.7"/>
<text x="399.8" y="411.55" text-anchor="end" font-size="10.8" font-weight="bold">20</text>
<path d="M409.7,375.91H412.09999999999997M651.5,375.91H649.1" stroke="#000" stroke-width="1.7"/>
<text x="399.8" y="380.99" text-anchor="end" font-size="10.8" font-weight="bold">25</text>
<path d="M409.7,345.36H412.09999999999997M651.5,345.36H649.1" stroke="#000" stroke-width="1.7"/>
<text x="399.8" y="350.44" text-anchor="end" font-size="10.8" font-weight="bold">30</text>
<path d="M409.7,314.80H412.09999999999997M651.5,314.80H649.1" stroke="#000" stroke-width="1.7"/>
<text x="399.8" y="319.88" text-anchor="end" font-size="10.8" font-weight="bold">35</text>
<polyline points="409.70,345.36 429.85,345.36 450.00,345.36 470.15,345.36 490.30,345.36 510.45,345.36 530.60,345.36 550.75,345.36 570.90,351.47 591.05,363.69 611.20,351.47 631.35,351.47 651.50,363.69" fill="none" stroke="#962000" stroke-width="1.35" stroke-dasharray="1.6,1.95" stroke-linejoin="round"/>
<circle cx="409.70" cy="345.36" r="2.60" fill="#fff" stroke="#962000" stroke-width="2.4"/>
<circle cx="429.85" cy="345.36" r="2.60" fill="#fff" stroke="#962000" stroke-width="2.4"/>
<circle cx="450.00" cy="345.36" r="2.60" fill="#fff" stroke="#962000" stroke-width="2.4"/>
<circle cx="470.15" cy="345.36" r="2.60" fill="#fff" stroke="#962000" stroke-width="2.4"/>
<circle cx="490.30" cy="345.36" r="2.60" fill="#fff" stroke="#962000" stroke-width="2.4"/>
<circle cx="510.45" cy="345.36" r="2.60" fill="#fff" stroke="#962000" stroke-width="2.4"/>
<circle cx="530.60" cy="345.36" r="2.60" fill="#fff" stroke="#962000" stroke-width="2.4"/>
<circle cx="550.75" cy="345.36" r="2.60" fill="#fff" stroke="#962000" stroke-width="2.4"/>
<circle cx="570.90" cy="351.47" r="2.60" fill="#fff" stroke="#962000" stroke-width="2.4"/>
<circle cx="591.05" cy="363.69" r="2.60" fill="#fff" stroke="#962000" stroke-width="2.4"/>
<circle cx="611.20" cy="351.47" r="2.60" fill="#fff" stroke="#962000" stroke-width="2.4"/>
<circle cx="631.35" cy="351.47" r="2.60" fill="#fff" stroke="#962000" stroke-width="2.4"/>
<circle cx="651.50" cy="363.69" r="2.60" fill="#fff" stroke="#962000" stroke-width="2.4"/>
<polyline points="409.70,345.36 429.85,351.47 450.00,351.47 470.15,351.47 490.30,357.58 510.45,345.36 530.60,351.47 550.75,351.47 570.90,382.03 591.05,345.36 611.20,363.69 631.35,351.47 651.50,375.91" fill="none" stroke="#9400f0" stroke-width="2.6" stroke-dasharray="5.5,3.8" stroke-linejoin="round"/>
<rect x="406.60" y="342.26" width="6.2" height="6.2" fill="#9400f0"/>
<rect x="426.75" y="348.37" width="6.2" height="6.2" fill="#9400f0"/>
<rect x="446.90" y="348.37" width="6.2" height="6.2" fill="#9400f0"/>
<rect x="467.05" y="348.37" width="6.2" height="6.2" fill="#9400f0"/>
<rect x="487.20" y="354.48" width="6.2" height="6.2" fill="#9400f0"/>
<rect x="507.35" y="342.26" width="6.2" height="6.2" fill="#9400f0"/>
<rect x="527.50" y="348.37" width="6.2" height="6.2" fill="#9400f0"/>
<rect x="547.65" y="348.37" width="6.2" height="6.2" fill="#9400f0"/>
<rect x="567.80" y="378.93" width="6.2" height="6.2" fill="#9400f0"/>
<rect x="587.95" y="342.26" width="6.2" height="6.2" fill="#9400f0"/>
<rect x="608.10" y="360.59" width="6.2" height="6.2" fill="#9400f0"/>
<rect x="628.25" y="348.37" width="6.2" height="6.2" fill="#9400f0"/>
<rect x="648.40" y="372.81" width="6.2" height="6.2" fill="#9400f0"/>
<polyline points="409.70,394.25 429.85,449.25 450.00,473.70 470.15,492.03 490.30,461.47 510.45,467.59 530.60,504.25 550.75,467.59 570.90,492.03 591.05,479.81 611.20,516.48 631.35,498.14 651.50,504.25" fill="none" stroke="#962000" stroke-width="2.7" stroke-linejoin="round"/>
<circle cx="409.70" cy="394.25" r="4.00" fill="#962000"/>
<circle cx="429.85" cy="449.25" r="4.00" fill="#962000"/>
<circle cx="450.00" cy="473.70" r="4.00" fill="#962000"/>
<circle cx="470.15" cy="492.03" r="4.00" fill="#962000"/>
<circle cx="490.30" cy="461.47" r="4.00" fill="#962000"/>
<circle cx="510.45" cy="467.59" r="4.00" fill="#962000"/>
<circle cx="530.60" cy="504.25" r="4.00" fill="#962000"/>
<circle cx="550.75" cy="467.59" r="4.00" fill="#962000"/>
<circle cx="570.90" cy="492.03" r="4.00" fill="#962000"/>
<circle cx="591.05" cy="479.81" r="4.00" fill="#962000"/>
<circle cx="611.20" cy="516.48" r="4.00" fill="#962000"/>
<circle cx="631.35" cy="498.14" r="4.00" fill="#962000"/>
<circle cx="651.50" cy="504.25" r="4.00" fill="#962000"/>
<polyline points="409.70,382.03 429.85,375.91 450.00,400.36 470.15,418.69 490.30,412.58 510.45,437.03 530.60,430.92 550.75,437.03 570.90,443.14 591.05,455.36 611.20,449.25 631.35,461.47 651.50,418.69" fill="none" stroke="#3a3a3a" stroke-width="2.5" stroke-dasharray="6,2.6,1.4,2.6" stroke-linejoin="round"/>
<path d="M405.70,382.03H413.70M409.70,378.03V386.03" stroke="#3a3a3a" stroke-width="2.4"/>
<path d="M425.85,375.91H433.85M429.85,371.91V379.91" stroke="#3a3a3a" stroke-width="2.4"/>
<path d="M446.00,400.36H454.00M450.00,396.36V404.36" stroke="#3a3a3a" stroke-width="2.4"/>
<path d="M466.15,418.69H474.15M470.15,414.69V422.69" stroke="#3a3a3a" stroke-width="2.4"/>
<path d="M486.30,412.58H494.30M490.30,408.58V416.58" stroke="#3a3a3a" stroke-width="2.4"/>
<path d="M506.45,437.03H514.45M510.45,433.03V441.03" stroke="#3a3a3a" stroke-width="2.4"/>
<path d="M526.60,430.92H534.60M530.60,426.92V434.92" stroke="#3a3a3a" stroke-width="2.4"/>
<path d="M546.75,437.03H554.75M550.75,433.03V441.03" stroke="#3a3a3a" stroke-width="2.4"/>
<path d="M566.90,443.14H574.90M570.90,439.14V447.14" stroke="#3a3a3a" stroke-width="2.4"/>
<path d="M587.05,455.36H595.05M591.05,451.36V459.36" stroke="#3a3a3a" stroke-width="2.4"/>
<path d="M607.20,449.25H615.20M611.20,445.25V453.25" stroke="#3a3a3a" stroke-width="2.4"/>
<path d="M627.35,461.47H635.35M631.35,457.47V465.47" stroke="#3a3a3a" stroke-width="2.4"/>
<path d="M647.50,418.69H655.50M651.50,414.69V422.69" stroke="#3a3a3a" stroke-width="2.4"/>
<polyline points="409.70,528.70 429.85,479.81 450.00,406.47 470.15,369.80 490.30,357.58 510.45,363.69 530.60,351.47 550.75,345.36 570.90,357.58 591.05,357.58 611.20,351.47 631.35,351.47 651.50,351.47" fill="none" stroke="#0000ff" stroke-width="2.7" stroke-linejoin="round"/>
<circle cx="409.70" cy="528.70" r="2.60" fill="#0000ff"/>
<circle cx="429.85" cy="479.81" r="2.60" fill="#0000ff"/>
<circle cx="450.00" cy="406.47" r="2.60" fill="#0000ff"/>
<circle cx="470.15" cy="369.80" r="2.60" fill="#0000ff"/>
<circle cx="490.30" cy="357.58" r="2.60" fill="#0000ff"/>
<circle cx="510.45" cy="363.69" r="2.60" fill="#0000ff"/>
<circle cx="530.60" cy="351.47" r="2.60" fill="#0000ff"/>
<circle cx="550.75" cy="345.36" r="2.60" fill="#0000ff"/>
<circle cx="570.90" cy="357.58" r="2.60" fill="#0000ff"/>
<circle cx="591.05" cy="357.58" r="2.60" fill="#0000ff"/>
<circle cx="611.20" cy="351.47" r="2.60" fill="#0000ff"/>
<circle cx="631.35" cy="351.47" r="2.60" fill="#0000ff"/>
<circle cx="651.50" cy="351.47" r="2.60" fill="#0000ff"/>
<polyline points="409.70,437.03 429.85,443.14 450.00,437.03 470.15,437.03 490.30,424.81 510.45,424.81 530.60,455.36 550.75,418.69 570.90,430.92 591.05,406.47 611.20,394.25 631.35,443.14 651.50,412.58" fill="none" stroke="#ff0000" stroke-width="1.35" stroke-dasharray="1.6,1.95" stroke-linejoin="round"/>
<polygon points="409.70,430.03 411.43,434.65 416.36,434.87 412.50,437.94 413.81,442.69 409.70,439.97 405.59,442.69 406.90,437.94 403.04,434.87 407.97,434.65" fill="#ff0000" stroke="#ff0000" stroke-width="0.6" stroke-linejoin="miter"/>
<polygon points="429.85,436.14 431.58,440.76 436.51,440.98 432.65,444.05 433.96,448.80 429.85,446.08 425.74,448.80 427.05,444.05 423.19,440.98 428.12,440.76" fill="#ff0000" stroke="#ff0000" stroke-width="0.6" stroke-linejoin="miter"/>
<polygon points="450.00,430.03 451.73,434.65 456.66,434.87 452.80,437.94 454.11,442.69 450.00,439.97 445.89,442.69 447.20,437.94 443.34,434.87 448.27,434.65" fill="#ff0000" stroke="#ff0000" stroke-width="0.6" stroke-linejoin="miter"/>
<polygon points="470.15,430.03 471.88,434.65 476.81,434.87 472.95,437.94 474.26,442.69 470.15,439.97 466.04,442.69 467.35,437.94 463.49,434.87 468.42,434.65" fill="#ff0000" stroke="#ff0000" stroke-width="0.6" stroke-linejoin="miter"/>
<polygon points="490.30,417.81 492.03,422.43 496.96,422.64 493.10,425.71 494.41,430.47 490.30,427.75 486.19,430.47 487.50,425.71 483.64,422.64 488.57,422.43" fill="#ff0000" stroke="#ff0000" stroke-width="0.6" stroke-linejoin="miter"/>
<polygon points="510.45,417.81 512.18,422.43 517.11,422.64 513.25,425.71 514.56,430.47 510.45,427.75 506.34,430.47 507.65,425.71 503.79,422.64 508.72,422.43" fill="#ff0000" stroke="#ff0000" stroke-width="0.6" stroke-linejoin="miter"/>
<polygon points="530.60,448.36 532.33,452.98 537.26,453.20 533.40,456.27 534.71,461.03 530.60,458.30 526.49,461.03 527.80,456.27 523.94,453.20 528.87,452.98" fill="#ff0000" stroke="#ff0000" stroke-width="0.6" stroke-linejoin="miter"/>
<polygon points="550.75,411.69 552.48,416.32 557.41,416.53 553.55,419.60 554.86,424.36 550.75,421.63 546.64,424.36 547.95,419.60 544.09,416.53 549.02,416.32" fill="#ff0000" stroke="#ff0000" stroke-width="0.6" stroke-linejoin="miter"/>
<polygon points="570.90,423.92 572.63,428.54 577.56,428.75 573.70,431.83 575.01,436.58 570.90,433.86 566.79,436.58 568.10,431.83 564.24,428.75 569.17,428.54" fill="#ff0000" stroke="#ff0000" stroke-width="0.6" stroke-linejoin="miter"/>
<polygon points="591.05,399.47 592.78,404.09 597.71,404.31 593.85,407.38 595.16,412.13 591.05,409.41 586.94,412.13 588.25,407.38 584.39,404.31 589.32,404.09" fill="#ff0000" stroke="#ff0000" stroke-width="0.6" stroke-linejoin="miter"/>
<polygon points="611.20,387.25 612.93,391.87 617.86,392.09 614.00,395.16 615.31,399.91 611.20,397.19 607.09,399.91 608.40,395.16 604.54,392.09 609.47,391.87" fill="#ff0000" stroke="#ff0000" stroke-width="0.6" stroke-linejoin="miter"/>
<polygon points="631.35,436.14 633.08,440.76 638.01,440.98 634.15,444.05 635.46,448.80 631.35,446.08 627.24,448.80 628.55,444.05 624.69,440.98 629.62,440.76" fill="#ff0000" stroke="#ff0000" stroke-width="0.6" stroke-linejoin="miter"/>
<polygon points="651.50,405.58 653.23,410.20 658.16,410.42 654.30,413.49 655.61,418.25 651.50,415.52 647.39,418.25 648.70,413.49 644.84,410.42 649.77,410.20" fill="#ff0000" stroke="#ff0000" stroke-width="0.6" stroke-linejoin="miter"/>
<text x="530.5" y="563.3" text-anchor="middle" font-size="10.8" font-weight="bold">Local Leader Limit</text>
<text transform="translate(378,421.65) rotate(-90)" text-anchor="middle" font-size="10.8" font-weight="bold">Number of successful runs</text>
<text x="358.2" y="308.4" font-size="17" font-weight="bold">(d)</text>
<rect x="659.6" y="314.3" width="48.3" height="82.8" fill="#fff" stroke="#808080" stroke-width="1.1"/>
<path d="M663.7,322.40000000000003H687.0" stroke="#962000" stroke-width="1.35" stroke-dasharray="1.6,1.95"/>
<circle cx="675.35" cy="322.40" r="2.60" fill="#fff" stroke="#962000" stroke-width="2.4"/>
<text x="689.8000000000001" y="326.40000000000003" font-size="11" font-weight="bold">f9</text>
<path d="M663.7,335.70000000000005H687.0" stroke="#9400f0" stroke-width="2.6" stroke-dasharray="5.5,3.8"/>
<rect x="672.25" y="332.60" width="6.2" height="6.2" fill="#9400f0"/>
<text x="689.8000000000001" y="339.70000000000005" font-size="11" font-weight="bold">f12</text>
<path d="M663.7,349.00000000000006H687.0" stroke="#962000" stroke-width="2.7"/>
<circle cx="675.35" cy="349.00" r="4.00" fill="#962000"/>
<text x="689.8000000000001" y="353.00000000000006" font-size="11" font-weight="bold">f14</text>
<path d="M663.7,362.30000000000007H687.0" stroke="#3a3a3a" stroke-width="2.5" stroke-dasharray="6,2.6,1.4,2.6"/>
<path d="M671.35,362.30H679.35M675.35,358.30V366.30" stroke="#3a3a3a" stroke-width="2.4"/>
<text x="689.8000000000001" y="366.30000000000007" font-size="11" font-weight="bold">f18</text>
<path d="M663.7,375.6H687.0" stroke="#0000ff" stroke-width="2.7"/>
<circle cx="675.35" cy="375.60" r="2.60" fill="#0000ff"/>
<text x="689.8000000000001" y="379.6" font-size="11" font-weight="bold">f25</text>
<path d="M663.7,388.90000000000003H687.0" stroke="#ff0000" stroke-width="1.35" stroke-dasharray="1.6,1.95"/>
<polygon points="675.35,381.90 677.08,386.52 682.01,386.74 678.15,389.81 679.46,394.56 675.35,391.84 671.24,394.56 672.55,389.81 668.69,386.74 673.62,386.52" fill="#ff0000" stroke="#ff0000" stroke-width="0.6" stroke-linejoin="miter"/>
<text x="689.8000000000001" y="392.90000000000003" font-size="11" font-weight="bold">f26</text>
<rect x="39.5" y="608.2" width="242.8" height="213.5" fill="none" stroke="#000" stroke-width="2.5"/>
<path d="M39.50,821.7V819.3000000000001M39.50,608.2V610.6" stroke="#000" stroke-width="1.7"/>
<text x="39.50" y="839.0" text-anchor="middle" font-size="10.8" font-weight="bold">40</text>
<path d="M79.97,821.7V819.3000000000001M79.97,608.2V610.6" stroke="#000" stroke-width="1.7"/>
<text x="79.97" y="839.0" text-anchor="middle" font-size="10.8" font-weight="bold">60</text>
<path d="M120.43,821.7V819.3000000000001M120.43,608.2V610.6" stroke="#000" stroke-width="1.7"/>
<text x="120.43" y="839.0" text-anchor="middle" font-size="10.8" font-weight="bold">80</text>
<path d="M160.90,821.7V819.3000000000001M160.90,608.2V610.6" stroke="#000" stroke-width="1.7"/>
<text x="160.90" y="839.0" text-anchor="middle" font-size="10.8" font-weight="bold">100</text>
<path d="M201.37,821.7V819.3000000000001M201.37,608.2V610.6" stroke="#000" stroke-width="1.7"/>
<text x="201.37" y="839.0" text-anchor="middle" font-size="10.8" font-weight="bold">120</text>
<path d="M241.83,821.7V819.3000000000001M241.83,608.2V610.6" stroke="#000" stroke-width="1.7"/>
<text x="241.83" y="839.0" text-anchor="middle" font-size="10.8" font-weight="bold">140</text>
<path d="M282.30,821.7V819.3000000000001M282.30,608.2V610.6" stroke="#000" stroke-width="1.7"/>
<text x="282.30" y="839.0" text-anchor="middle" font-size="10.8" font-weight="bold">160</text>
<path d="M39.5,821.70H41.9M282.3,821.70H279.90000000000003" stroke="#000" stroke-width="1.7"/>
<text x="31.5" y="826.78" text-anchor="end" font-size="10.8" font-weight="bold">0</text>
<path d="M39.5,791.20H41.9M282.3,791.20H279.90000000000003" stroke="#000" stroke-width="1.7"/>
<text x="31.5" y="796.28" text-anchor="end" font-size="10.8" font-weight="bold">5</text>
<path d="M39.5,760.70H41.9M282.3,760.70H279.90000000000003" stroke="#000" stroke-width="1.7"/>
<text x="31.5" y="765.78" text-anchor="end" font-size="10.8" font-weight="bold">10</text>
<path d="M39.5,730.20H41.9M282.3,730.20H279.90000000000003" stroke="#000" stroke-width="1.7"/>
<text x="31.5" y="735.28" text-anchor="end" font-size="10.8" font-weight="bold">15</text>
<path d="M39.5,699.70H41.9M282.3,699.70H279.90000000000003" stroke="#000" stroke-width="1.7"/>
<text x="31.5" y="704.78" text-anchor="end" font-size="10.8" font-weight="bold">20</text>
<path d="M39.5,669.20H41.9M282.3,669.20H279.90000000000003" stroke="#000" stroke-width="1.7"/>
<text x="31.5" y="674.28" text-anchor="end" font-size="10.8" font-weight="bold">25</text>
<path d="M39.5,638.70H41.9M282.3,638.70H279.90000000000003" stroke="#000" stroke-width="1.7"/>
<text x="31.5" y="643.78" text-anchor="end" font-size="10.8" font-weight="bold">30</text>
<path d="M39.5,608.20H41.9M282.3,608.20H279.90000000000003" stroke="#000" stroke-width="1.7"/>
<text x="31.5" y="613.28" text-anchor="end" font-size="10.8" font-weight="bold">35</text>
<polyline points="39.50,638.70 79.97,644.80 120.43,644.80 160.90,638.70 201.37,638.70 241.83,638.70 282.30,638.70" fill="none" stroke="#0000ff" stroke-width="1.35" stroke-dasharray="1.6,1.95" stroke-linejoin="round"/>
<circle cx="39.50" cy="638.70" r="2.80" fill="#fff" stroke="#0000ff" stroke-width="2.4"/>
<circle cx="79.97" cy="644.80" r="2.80" fill="#fff" stroke="#0000ff" stroke-width="2.4"/>
<circle cx="120.43" cy="644.80" r="2.80" fill="#fff" stroke="#0000ff" stroke-width="2.4"/>
<circle cx="160.90" cy="638.70" r="2.80" fill="#fff" stroke="#0000ff" stroke-width="2.4"/>
<circle cx="201.37" cy="638.70" r="2.80" fill="#fff" stroke="#0000ff" stroke-width="2.4"/>
<circle cx="241.83" cy="638.70" r="2.80" fill="#fff" stroke="#0000ff" stroke-width="2.4"/>
<circle cx="282.30" cy="638.70" r="2.80" fill="#fff" stroke="#0000ff" stroke-width="2.4"/>
<polyline points="39.50,638.70 79.97,657.00 120.43,650.90 160.90,669.20 201.37,675.30 241.83,650.90 282.30,644.80" fill="none" stroke="#1c9410" stroke-width="2.7" stroke-linejoin="round"/>
<polygon points="44.00,638.70 36.71,634.43 36.71,642.98" fill="#1c9410" stroke="#1c9410" stroke-width="0.8" stroke-linejoin="round"/>
<polygon points="84.47,657.00 77.18,652.73 77.18,661.27" fill="#1c9410" stroke="#1c9410" stroke-width="0.8" stroke-linejoin="round"/>
<polygon points="124.93,650.90 117.64,646.63 117.64,655.18" fill="#1c9410" stroke="#1c9410" stroke-width="0.8" stroke-linejoin="round"/>
<polygon points="165.40,669.20 158.11,664.93 158.11,673.48" fill="#1c9410" stroke="#1c9410" stroke-width="0.8" stroke-linejoin="round"/>
<polygon points="205.87,675.30 198.58,671.03 198.58,679.58" fill="#1c9410" stroke="#1c9410" stroke-width="0.8" stroke-linejoin="round"/>
<polygon points="246.33,650.90 239.04,646.63 239.04,655.18" fill="#1c9410" stroke="#1c9410" stroke-width="0.8" stroke-linejoin="round"/>
<polygon points="286.80,644.80 279.51,640.53 279.51,649.08" fill="#1c9410" stroke="#1c9410" stroke-width="0.8" stroke-linejoin="round"/>
<polyline points="39.50,730.20 79.97,809.50 120.43,785.10 160.90,785.10 201.37,815.60 241.83,815.60 282.30,797.30" fill="none" stroke="#ff0000" stroke-width="2.6" stroke-dasharray="5.5,3.8" stroke-linejoin="round"/>
<path d="M35.50,730.20H43.50M39.50,726.20V734.20" stroke="#ff0000" stroke-width="2.5"/>
<path d="M75.97,809.50H83.97M79.97,805.50V813.50" stroke="#ff0000" stroke-width="2.5"/>
<path d="M116.43,785.10H124.43M120.43,781.10V789.10" stroke="#ff0000" stroke-width="2.5"/>
<path d="M156.90,785.10H164.90M160.90,781.10V789.10" stroke="#ff0000" stroke-width="2.5"/>
<path d="M197.37,815.60H205.37M201.37,811.60V819.60" stroke="#ff0000" stroke-width="2.5"/>
<path d="M237.83,815.60H245.83M241.83,811.60V819.60" stroke="#ff0000" stroke-width="2.5"/>
<path d="M278.30,797.30H286.30M282.30,793.30V801.30" stroke="#ff0000" stroke-width="2.5"/>
<polyline points="39.50,675.30 79.97,711.90 120.43,742.40 160.90,742.40 201.37,724.10 241.83,779.00 282.30,748.50" fill="none" stroke="#962000" stroke-width="1.8" stroke-dasharray="1.6,1.95" stroke-linejoin="round"/>
<path d="M36.60,672.40L42.40,678.20M36.60,678.20L42.40,672.40" stroke="#962000" stroke-width="2.8"/>
<path d="M77.07,709.00L82.87,714.80M77.07,714.80L82.87,709.00" stroke="#962000" stroke-width="2.8"/>
<path d="M117.53,739.50L123.33,745.30M117.53,745.30L123.33,739.50" stroke="#962000" stroke-width="2.8"/>
<path d="M158.00,739.50L163.80,745.30M158.00,745.30L163.80,739.50" stroke="#962000" stroke-width="2.8"/>
<path d="M198.47,721.20L204.27,727.00M198.47,727.00L204.27,721.20" stroke="#962000" stroke-width="2.8"/>
<path d="M238.93,776.10L244.73,781.90M238.93,781.90L244.73,776.10" stroke="#962000" stroke-width="2.8"/>
<path d="M279.40,745.60L285.20,751.40M279.40,751.40L285.20,745.60" stroke="#962000" stroke-width="2.8"/>
<polyline points="39.50,760.70 79.97,711.90 120.43,760.70 160.90,785.10 201.37,809.50 241.83,803.40 282.30,821.70" fill="none" stroke="#0000ff" stroke-width="2.5" stroke-dasharray="6,2.6,1.4,2.6" stroke-linejoin="round"/>
<polygon points="39.50,755.45 40.80,758.92 44.49,759.08 41.60,761.38 42.59,764.95 39.50,762.91 36.41,764.95 37.40,761.38 34.51,759.08 38.20,758.92" fill="#0000ff" stroke="#0000ff" stroke-width="0.6" stroke-linejoin="miter"/>
<polygon points="79.97,706.65 81.26,710.12 84.96,710.28 82.06,712.58 83.05,716.15 79.97,714.11 76.88,716.15 77.87,712.58 74.97,710.28 78.67,710.12" fill="#0000ff" stroke="#0000ff" stroke-width="0.6" stroke-linejoin="miter"/>
<polygon points="120.43,755.45 121.73,758.92 125.43,759.08 122.53,761.38 123.52,764.95 120.43,762.91 117.35,764.95 118.34,761.38 115.44,759.08 119.14,758.92" fill="#0000ff" stroke="#0000ff" stroke-width="0.6" stroke-linejoin="miter"/>
<polygon points="160.90,779.85 162.20,783.32 165.89,783.48 163.00,785.78 163.99,789.35 160.90,787.31 157.81,789.35 158.80,785.78 155.91,783.48 159.60,783.32" fill="#0000ff" stroke="#0000ff" stroke-width="0.6" stroke-linejoin="miter"/>
<polygon points="201.37,804.25 202.66,807.72 206.36,807.88 203.46,810.18 204.45,813.75 201.37,811.71 198.28,813.75 199.27,810.18 196.37,807.88 200.07,807.72" fill="#0000ff" stroke="#0000ff" stroke-width="0.6" stroke-linejoin="miter"/>
<polygon points="241.83,798.15 243.13,801.62 246.83,801.78 243.93,804.08 244.92,807.65 241.83,805.61 238.75,807.65 239.74,804.08 236.84,801.78 240.54,801.62" fill="#0000ff" stroke="#0000ff" stroke-width="0.6" stroke-linejoin="miter"/>
<polygon points="282.30,816.45 283.60,819.92 287.29,820.08 284.40,822.38 285.39,825.95 282.30,823.91 279.21,825.95 280.20,822.38 277.31,820.08 281.00,819.92" fill="#0000ff" stroke="#0000ff" stroke-width="0.6" stroke-linejoin="miter"/>
<polyline points="39.50,718.00 79.97,742.40 120.43,718.00 160.90,742.40 201.37,711.90 241.83,736.30 282.30,724.10" fill="none" stroke="#962000" stroke-width="2.7" stroke-linejoin="round"/>
<rect x="35.50" y="714.00" width="8" height="8" fill="#962000"/>
<rect x="75.97" y="738.40" width="8" height="8" fill="#962000"/>
<rect x="116.43" y="714.00" width="8" height="8" fill="#962000"/>
<rect x="156.90" y="738.40" width="8" height="8" fill="#962000"/>
<rect x="197.37" y="707.90" width="8" height="8" fill="#962000"/>
<rect x="237.83" y="732.30" width="8" height="8" fill="#962000"/>
<rect x="278.30" y="720.10" width="8" height="8" fill="#962000"/>
<text x="160.6" y="856.6" text-anchor="middle" font-size="10.8" font-weight="bold">Swarm Size</text>
<text transform="translate(8.0,714.45) rotate(-90)" text-anchor="middle" font-size="10.8" font-weight="bold">Number of successful runs</text>
<text x="-0.6" y="598.4" font-size="17" font-weight="bold">(e)</text>
<rect x="289.5" y="607.9" width="48.7" height="82.8" fill="#fff" stroke="#808080" stroke-width="1.1"/>
<path d="M294.0,616.0H317.3" stroke="#0000ff" stroke-width="1.35" stroke-dasharray="1.6,1.95"/>
<circle cx="305.65" cy="616.00" r="2.80" fill="#fff" stroke="#0000ff" stroke-width="2.4"/>
<text x="320.1" y="620.0" font-size="11" font-weight="bold">f9</text>
<path d="M294.0,629.3H317.3" stroke="#1c9410" stroke-width="2.7"/>
<polygon points="310.15,629.30 302.86,625.02 302.86,633.57" fill="#1c9410" stroke="#1c9410" stroke-width="0.8" stroke-linejoin="round"/>
<text x="320.1" y="633.3" font-size="11" font-weight="bold">f12</text>
<path d="M294.0,642.6H317.3" stroke="#ff0000" stroke-width="2.6" stroke-dasharray="5.5,3.8"/>
<path d="M301.65,642.60H309.65M305.65,638.60V646.60" stroke="#ff0000" stroke-width="2.5"/>
<text x="320.1" y="646.6" font-size="11" font-weight="bold">f14</text>
<path d="M294.0,655.9H317.3" stroke="#962000" stroke-width="1.8" stroke-dasharray="1.6,1.95"/>
<path d="M302.75,653.00L308.55,658.80M302.75,658.80L308.55,653.00" stroke="#962000" stroke-width="2.8"/>
<text x="320.1" y="659.9" font-size="11" font-weight="bold">f18</text>
<path d="M294.0,669.2H317.3" stroke="#0000ff" stroke-width="2.5" stroke-dasharray="6,2.6,1.4,2.6"/>
<polygon points="305.65,663.95 306.95,667.42 310.64,667.58 307.75,669.88 308.74,673.45 305.65,671.41 302.56,673.45 303.55,669.88 300.66,667.58 304.35,667.42" fill="#0000ff" stroke="#0000ff" stroke-width="0.6" stroke-linejoin="miter"/>
<text x="320.1" y="673.2" font-size="11" font-weight="bold">f25</text>
<path d="M294.0,682.5H317.3" stroke="#962000" stroke-width="2.7"/>
<rect x="301.65" y="678.50" width="8" height="8" fill="#962000"/>
<text x="320.1" y="686.5" font-size="11" font-weight="bold">f26</text>
<rect x="410.4" y="607.7" width="242.20000000000005" height="214.0999999999999" fill="none" stroke="#000" stroke-width="2.5"/>
<path d="M410.40,821.8V819.4M410.40,607.7V610.1" stroke="#000" stroke-width="1.7"/>
<text x="410.40" y="838.8" text-anchor="middle" font-size="10.8" font-weight="bold">40</text>
<path d="M450.77,821.8V819.4M450.77,607.7V610.1" stroke="#000" stroke-width="1.7"/>
<text x="450.77" y="838.8" text-anchor="middle" font-size="10.8" font-weight="bold">60</text>
<path d="M491.13,821.8V819.4M491.13,607.7V610.1" stroke="#000" stroke-width="1.7"/>
<text x="491.13" y="838.8" text-anchor="middle" font-size="10.8" font-weight="bold">80</text>
<path d="M531.50,821.8V819.4M531.50,607.7V610.1" stroke="#000" stroke-width="1.7"/>
<text x="531.50" y="838.8" text-anchor="middle" font-size="10.8" font-weight="bold">100</text>
<path d="M571.87,821.8V819.4M571.87,607.7V610.1" stroke="#000" stroke-width="1.7"/>
<text x="571.87" y="838.8" text-anchor="middle" font-size="10.8" font-weight="bold">120</text>
<path d="M612.23,821.8V819.4M612.23,607.7V610.1" stroke="#000" stroke-width="1.7"/>
<text x="612.23" y="838.8" text-anchor="middle" font-size="10.8" font-weight="bold">140</text>
<path d="M652.60,821.8V819.4M652.60,607.7V610.1" stroke="#000" stroke-width="1.7"/>
<text x="652.60" y="838.8" text-anchor="middle" font-size="10.8" font-weight="bold">160</text>
<path d="M410.4,811.09H412.79999999999995M652.6,811.09H650.2" stroke="#000" stroke-width="1.7"/>
<text x="399.8" y="815.67" text-anchor="end" font-size="10.8" font-weight="bold">0.2</text>
<path d="M410.4,789.68H412.79999999999995M652.6,789.68H650.2" stroke="#000" stroke-width="1.7"/>
<text x="399.8" y="794.26" text-anchor="end" font-size="10.8" font-weight="bold">0.4</text>
<path d="M410.4,768.27H412.79999999999995M652.6,768.27H650.2" stroke="#000" stroke-width="1.7"/>
<text x="399.8" y="772.85" text-anchor="end" font-size="10.8" font-weight="bold">0.6</text>
<path d="M410.4,746.87H412.79999999999995M652.6,746.87H650.2" stroke="#000" stroke-width="1.7"/>
<text x="399.8" y="751.44" text-anchor="end" font-size="10.8" font-weight="bold">0.8</text>
<path d="M410.4,725.46H412.79999999999995M652.6,725.46H650.2" stroke="#000" stroke-width="1.7"/>
<text x="399.8" y="730.03" text-anchor="end" font-size="10.8" font-weight="bold">1</text>
<path d="M410.4,704.05H412.79999999999995M652.6,704.05H650.2" stroke="#000" stroke-width="1.7"/>
<text x="399.8" y="708.62" text-anchor="end" font-size="10.8" font-weight="bold">1.2</text>
<path d="M410.4,682.63H412.79999999999995M652.6,682.63H650.2" stroke="#000" stroke-width="1.7"/>
<text x="399.8" y="687.21" text-anchor="end" font-size="10.8" font-weight="bold">1.4</text>
<path d="M410.4,661.23H412.79999999999995M652.6,661.23H650.2" stroke="#000" stroke-width="1.7"/>
<text x="399.8" y="665.80" text-anchor="end" font-size="10.8" font-weight="bold">1.6</text>
<path d="M410.4,639.82H412.79999999999995M652.6,639.82H650.2" stroke="#000" stroke-width="1.7"/>
<text x="399.8" y="644.39" text-anchor="end" font-size="10.8" font-weight="bold">1.8</text>
<path d="M410.4,618.41H412.79999999999995M652.6,618.41H650.2" stroke="#000" stroke-width="1.7"/>
<text x="399.8" y="622.99" text-anchor="end" font-size="10.8" font-weight="bold">2</text>
<polyline points="410.40,811.09 450.77,811.09 491.13,807.35 531.50,808.95 571.87,806.28 612.23,802.00 652.60,798.25" fill="none" stroke="#0000ff" stroke-width="1.35" stroke-dasharray="1.6,1.95" stroke-linejoin="round"/>
<circle cx="410.40" cy="811.09" r="2.90" fill="#fff" stroke="#0000ff" stroke-width="2.4"/>
<circle cx="450.77" cy="811.09" r="2.90" fill="#fff" stroke="#0000ff" stroke-width="2.4"/>
<circle cx="491.13" cy="807.35" r="2.90" fill="#fff" stroke="#0000ff" stroke-width="2.4"/>
<circle cx="531.50" cy="808.95" r="2.90" fill="#fff" stroke="#0000ff" stroke-width="2.4"/>
<circle cx="571.87" cy="806.28" r="2.90" fill="#fff" stroke="#0000ff" stroke-width="2.4"/>
<circle cx="612.23" cy="802.00" r="2.90" fill="#fff" stroke="#0000ff" stroke-width="2.4"/>
<circle cx="652.60" cy="798.25" r="2.90" fill="#fff" stroke="#0000ff" stroke-width="2.4"/>
<polyline points="410.40,802.53 450.77,767.20 491.13,760.78 531.50,744.72 571.87,722.24 612.23,735.09 652.60,749.01" fill="none" stroke="#1c9410" stroke-width="2.7" stroke-linejoin="round"/>
<path d="M406.40,802.53H414.40M410.40,798.53V806.53" stroke="#1c9410" stroke-width="2.5"/>
<path d="M446.77,767.20H454.77M450.77,763.20V771.20" stroke="#1c9410" stroke-width="2.5"/>
<path d="M487.13,760.78H495.13M491.13,756.78V764.78" stroke="#1c9410" stroke-width="2.5"/>
<path d="M527.50,744.72H535.50M531.50,740.72V748.72" stroke="#1c9410" stroke-width="2.5"/>
<path d="M567.87,722.24H575.87M571.87,718.24V726.24" stroke="#1c9410" stroke-width="2.5"/>
<path d="M608.23,735.09H616.23M612.23,731.09V739.09" stroke="#1c9410" stroke-width="2.5"/>
<path d="M648.60,749.01H656.60M652.60,745.01V753.01" stroke="#1c9410" stroke-width="2.5"/>
<polyline points="410.40,692.27 450.77,622.69 491.13,633.39 531.50,640.89 571.87,619.48 612.23,619.48 652.60,633.39" fill="none" stroke="#ff0000" stroke-width="2.7" stroke-linejoin="round"/>
<polygon points="410.40,697.27 415.15,689.17 405.65,689.17" fill="#ff0000" stroke="#ff0000" stroke-width="0.8" stroke-linejoin="round"/>
<polygon points="450.77,627.69 455.52,619.59 446.02,619.59" fill="#ff0000" stroke="#ff0000" stroke-width="0.8" stroke-linejoin="round"/>
<polygon points="491.13,638.39 495.88,630.29 486.38,630.29" fill="#ff0000" stroke="#ff0000" stroke-width="0.8" stroke-linejoin="round"/>
<polygon points="531.50,645.89 536.25,637.79 526.75,637.79" fill="#ff0000" stroke="#ff0000" stroke-width="0.8" stroke-linejoin="round"/>
<polygon points="571.87,624.48 576.62,616.38 567.12,616.38" fill="#ff0000" stroke="#ff0000" stroke-width="0.8" stroke-linejoin="round"/>
<polygon points="612.23,624.48 616.98,616.38 607.48,616.38" fill="#ff0000" stroke="#ff0000" stroke-width="0.8" stroke-linejoin="round"/>
<polygon points="652.60,638.39 657.35,630.29 647.85,630.29" fill="#ff0000" stroke="#ff0000" stroke-width="0.8" stroke-linejoin="round"/>
<polyline points="410.40,723.31 450.77,674.07 491.13,658.01 531.50,651.59 571.87,661.23 612.23,633.39 652.60,636.60" fill="none" stroke="#962000" stroke-width="2.6" stroke-dasharray="5.5,3.8" stroke-linejoin="round"/>
<polygon points="410.40,717.81 411.76,721.45 415.63,721.61 412.60,724.03 413.63,727.76 410.40,725.62 407.17,727.76 408.20,724.03 405.17,721.61 409.04,721.45" fill="#962000" stroke="#962000" stroke-width="0.6" stroke-linejoin="miter"/>
<polygon points="450.77,668.57 452.12,672.20 456.00,672.37 452.96,674.78 454.00,678.52 450.77,676.38 447.53,678.52 448.57,674.78 445.54,672.37 449.41,672.20" fill="#962000" stroke="#962000" stroke-width="0.6" stroke-linejoin="miter"/>
<polygon points="491.13,652.51 492.49,656.14 496.36,656.31 493.33,658.73 494.37,662.46 491.13,660.32 487.90,662.46 488.94,658.73 485.90,656.31 489.78,656.14" fill="#962000" stroke="#962000" stroke-width="0.6" stroke-linejoin="miter"/>
<polygon points="531.50,646.09 532.86,649.72 536.73,649.89 533.70,652.30 534.73,656.04 531.50,653.90 528.27,656.04 529.30,652.30 526.27,649.89 530.14,649.72" fill="#962000" stroke="#962000" stroke-width="0.6" stroke-linejoin="miter"/>
<polygon points="571.87,655.73 573.22,659.36 577.10,659.53 574.06,661.94 575.10,665.67 571.87,663.53 568.63,665.67 569.67,661.94 566.64,659.53 570.51,659.36" fill="#962000" stroke="#962000" stroke-width="0.6" stroke-linejoin="miter"/>
<polygon points="612.23,627.89 613.59,631.52 617.46,631.69 614.43,634.11 615.47,637.84 612.23,635.70 609.00,637.84 610.04,634.11 607.00,631.69 610.88,631.52" fill="#962000" stroke="#962000" stroke-width="0.6" stroke-linejoin="miter"/>
<polygon points="652.60,631.10 653.96,634.73 657.83,634.90 654.80,637.32 655.83,641.05 652.60,638.91 649.37,641.05 650.40,637.32 647.37,634.90 651.24,634.73" fill="#962000" stroke="#962000" stroke-width="0.6" stroke-linejoin="miter"/>
<polyline points="410.40,676.21 450.77,654.80 491.13,637.67 531.50,624.83 571.87,619.48 612.23,620.55 652.60,618.41" fill="none" stroke="#0000ff" stroke-width="2.5" stroke-dasharray="6,2.6,1.4,2.6" stroke-linejoin="round"/>
<rect x="407.40" y="673.21" width="6" height="6" fill="#0000ff"/>
<rect x="447.77" y="651.80" width="6" height="6" fill="#0000ff"/>
<rect x="488.13" y="634.67" width="6" height="6" fill="#0000ff"/>
<rect x="528.50" y="621.83" width="6" height="6" fill="#0000ff"/>
<rect x="568.87" y="616.48" width="6" height="6" fill="#0000ff"/>
<rect x="609.23" y="617.55" width="6" height="6" fill="#0000ff"/>
<rect x="649.60" y="615.41" width="6" height="6" fill="#0000ff"/>
<polyline points="410.40,732.95 450.77,689.06 491.13,710.47 531.50,681.56 571.87,708.33 612.23,682.63 652.60,684.78" fill="none" stroke="#ff0000" stroke-width="2.5" stroke-dasharray="6,2.6,1.4,2.6" stroke-linejoin="round"/>
<path d="M407.80,730.35L413.00,735.55M407.80,735.55L413.00,730.35" stroke="#ff0000" stroke-width="2.6"/>
<path d="M448.17,686.46L453.37,691.66M448.17,691.66L453.37,686.46" stroke="#ff0000" stroke-width="2.6"/>
<path d="M488.53,707.87L493.73,713.07M488.53,713.07L493.73,707.87" stroke="#ff0000" stroke-width="2.6"/>
<path d="M528.90,678.96L534.10,684.16M528.90,684.16L534.10,678.96" stroke="#ff0000" stroke-width="2.6"/>
<path d="M569.27,705.73L574.47,710.93M569.27,710.93L574.47,705.73" stroke="#ff0000" stroke-width="2.6"/>
<path d="M609.63,680.03L614.83,685.24M609.63,685.24L614.83,680.03" stroke="#ff0000" stroke-width="2.6"/>
<path d="M650.00,682.18L655.20,687.38M650.00,687.38L655.20,682.18" stroke="#ff0000" stroke-width="2.6"/>
<text x="531.3" y="856.6" text-anchor="middle" font-size="10.8" font-weight="bold">Swarm Size</text>
<text transform="translate(372.9,714.5) rotate(-90)" text-anchor="middle" font-size="10.8" font-weight="bold">Average number of function evaluations</text>
<text x="363.2" y="598.4" font-size="17" font-weight="bold">(f)</text>
<rect x="660.5" y="607.9" width="48.2" height="82.8" fill="#fff" stroke="#808080" stroke-width="1.1"/>
<path d="M664.6,616.0H687.9" stroke="#0000ff" stroke-width="1.35" stroke-dasharray="1.6,1.95"/>
<circle cx="676.25" cy="616.00" r="2.90" fill="#fff" stroke="#0000ff" stroke-width="2.4"/>
<text x="690.7" y="620.0" font-size="11" font-weight="bold">f9</text>
<path d="M664.6,629.3H687.9" stroke="#1c9410" stroke-width="2.7"/>
<path d="M672.25,629.30H680.25M676.25,625.30V633.30" stroke="#1c9410" stroke-width="2.5"/>
<text x="690.7" y="633.3" font-size="11" font-weight="bold">f12</text>
<path d="M664.6,642.6H687.9" stroke="#ff0000" stroke-width="2.7"/>
<polygon points="676.25,647.60 681.00,639.50 671.50,639.50" fill="#ff0000" stroke="#ff0000" stroke-width="0.8" stroke-linejoin="round"/>
<text x="690.7" y="646.6" font-size="11" font-weight="bold">f14</text>
<path d="M664.6,655.9H687.9" stroke="#962000" stroke-width="2.6" stroke-dasharray="5.5,3.8"/>
<polygon points="676.25,650.40 677.61,654.03 681.48,654.20 678.45,656.61 679.48,660.35 676.25,658.21 673.02,660.35 674.05,656.61 671.02,654.20 674.89,654.03" fill="#962000" stroke="#962000" stroke-width="0.6" stroke-linejoin="miter"/>
<text x="690.7" y="659.9" font-size="11" font-weight="bold">f18</text>
<path d="M664.6,669.2H687.9" stroke="#0000ff" stroke-width="2.5" stroke-dasharray="6,2.6,1.4,2.6"/>
<rect x="673.25" y="666.20" width="6" height="6" fill="#0000ff"/>
<text x="690.7" y="673.2" font-size="11" font-weight="bold">f25</text>
<path d="M664.6,682.5H687.9" stroke="#ff0000" stroke-width="2.5" stroke-dasharray="6,2.6,1.4,2.6"/>
<path d="M673.65,679.90L678.85,685.10M673.65,685.10L678.85,679.90" stroke="#ff0000" stroke-width="2.6"/>
<text x="690.7" y="686.5" font-size="11" font-weight="bold">f26</text>
<text x="410" y="604.5" font-size="10" font-weight="bold">x</text><text x="419.3" y="604.5" font-size="10.4">10</text><text x="430.8" y="597.2" font-size="6.4">5</text>
</svg></body></html>
